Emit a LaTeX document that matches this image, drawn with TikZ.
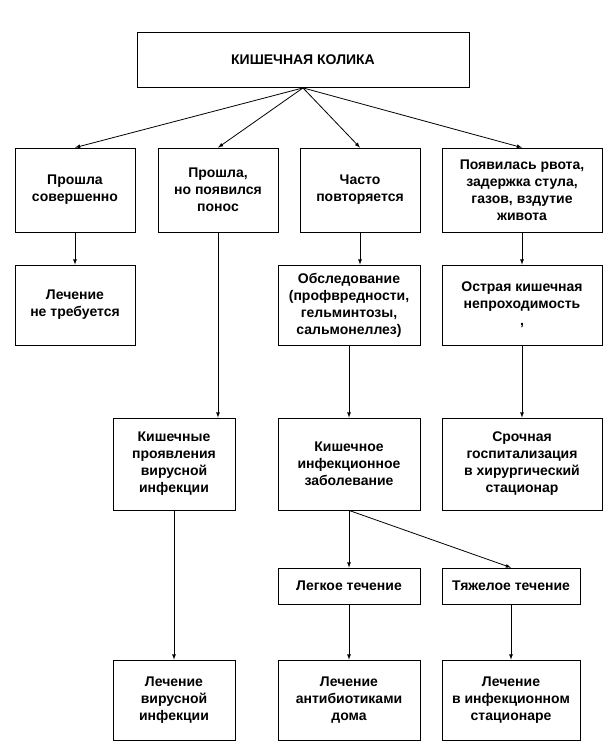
\documentclass[tikz,border=0pt]{standalone}
\usepackage{fontspec}
\setmainfont{Liberation Sans}
\usetikzlibrary{arrows}

\begin{document}
\begin{tikzpicture}[x=1pt,y=-1pt,thick,
    box/.style={draw,rectangle,align=center,font=\fontsize{14}{17}\selectfont\bfseries,inner sep=1pt},
    arr/.style={-latex}]
    \useasboundingbox (0,0) rectangle (604,753);
    % top
    \node[box,minimum width=332,minimum height=55,font=\fontsize{14}{17}\selectfont\bfseries] (kol) at (303,60) {КИШЕЧНАЯ КОЛИКА};
    % first row
    \node[box,minimum width=120,minimum height=84] (pa) at (75,190) {Прошла\\совершенно};
    \node[box,minimum width=120,minimum height=84] (pb) at (218,190) {Прошла,\\но появился\\понос};
    \node[box,minimum width=120,minimum height=84] (pc) at (360,190) {Часто\\повторяется};
    \node[box,minimum width=160,minimum height=84] (pd) at (522,190) {Появилась рвота,\\задержка стула,\\газов, вздутие\\живота};
    % second row
    \node[box,minimum width=120,minimum height=80] (la) at (75,305) {Лечение\\не требуется};
    \node[box,minimum width=142,minimum height=80] (ob) at (349,305) {Обследование\\(профвредности,\\гельминтозы,\\сальмонеллез)};
    \node[box,minimum width=160,minimum height=80] (on) at (522,305) {Острая кишечная\\непроходимость\\,};
    % third row
    \node[box,minimum width=122,minimum height=92] (kp) at (174,464) {Кишечные\\проявления\\вирусной\\инфекции};
    \node[box,minimum width=142,minimum height=92] (ki) at (349,464) {Кишечное\\инфекционное\\заболевание};
    \node[box,minimum width=160,minimum height=92] (sg) at (522,464) {Срочная\\госпитализация\\в хирургический\\стационар};
    % fourth row
    \node[box,minimum width=142,minimum height=36] (lt) at (349,586) {Легкое течение};
    \node[box,minimum width=138,minimum height=36] (tt) at (511,586) {Тяжелое течение};
    % last row
    \node[box,minimum width=122,minimum height=80] (lv) at (174,700) {Лечение\\вирусной\\инфекции};
    \node[box,minimum width=142,minimum height=80] (ld) at (349,700) {Лечение\\антибиотиками\\дома};
    \node[box,minimum width=138,minimum height=80] (ls) at (511,700) {Лечение\\в инфекционном\\стационаре};
    % connectors
    \foreach \t in {pa,pb,pc,pd} \draw[arr] (kol.south) -- (\t.north);
    \draw[arr] (pa) -- (la);
    \draw[arr] (pc) -- (ob.north -| pc);
    \draw[arr] (pd) -- (on);
    \draw[arr] (pb.south) -- (kp.north -| pb.south);
    \draw[arr] (ob) -- (ki);
    \draw[arr] (on) -- (sg);
    \draw[arr] (kp) -- (lv);
    \draw[arr] (ki.south) -- (lt.north);
    \draw[arr] (ki.south) -- (tt.north);
    \draw[arr] (lt) -- (ld);
    \draw[arr] (tt) -- (ls);
\end{tikzpicture}
\end{document}
